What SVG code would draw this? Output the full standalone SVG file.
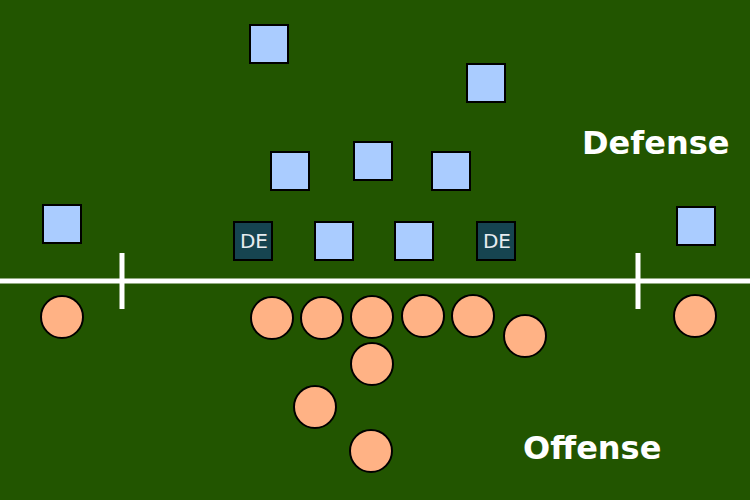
<svg xmlns="http://www.w3.org/2000/svg" width="750" height="500" viewBox="0 0 750 500">
<style>
.d{fill:#aaccff;stroke:#000;stroke-width:2}
.de{fill:#164450;stroke:#000;stroke-width:2}
.o{fill:#ffb285;stroke:#000;stroke-width:2}
.det{font-family:"DejaVu Sans",sans-serif;font-size:20px;fill:#e6ecf0;text-anchor:middle}
.lbl{font-family:"DejaVu Sans",sans-serif;font-weight:bold;font-size:32px;fill:#fff}
.ln{stroke:#fff;stroke-width:5;fill:none}
</style>
<rect width="750" height="500" fill="#225500"/>
<g id="lines">
<line class="ln" x1="0" y1="281" x2="750" y2="281"/>
<line class="ln" x1="122" y1="253" x2="122" y2="309"/>
<line class="ln" x1="638" y1="253" x2="638" y2="309"/>
</g>
<g id="defense">
<rect class="d" x="250" y="25" width="38" height="38"/>
<rect class="d" x="467" y="64" width="38" height="38"/>
<rect class="d" x="271" y="152" width="38" height="38"/>
<rect class="d" x="354" y="142" width="38" height="38"/>
<rect class="d" x="432" y="152" width="38" height="38"/>
<rect class="d" x="43" y="205" width="38" height="38"/>
<rect class="d" x="315" y="222" width="38" height="38"/>
<rect class="d" x="395" y="222" width="38" height="38"/>
<rect class="d" x="677" y="207" width="38" height="38"/>
<g id="de1"><rect class="de" x="234" y="222" width="38" height="38"/><text class="det" x="254" y="248">DE</text></g>
<g id="de2"><rect class="de" x="477" y="222" width="38" height="38"/><text class="det" x="497" y="248">DE</text></g>
</g>
<g id="offense">
<circle class="o" cx="62" cy="317" r="21"/>
<circle class="o" cx="272" cy="318" r="21"/>
<circle class="o" cx="322" cy="318" r="21"/>
<circle class="o" cx="372" cy="317" r="21"/>
<circle class="o" cx="423" cy="316" r="21"/>
<circle class="o" cx="473" cy="316" r="21"/>
<circle class="o" cx="525" cy="336" r="21"/>
<circle class="o" cx="372" cy="364" r="21"/>
<circle class="o" cx="315" cy="407" r="21"/>
<circle class="o" cx="371" cy="451" r="21"/>
<circle class="o" cx="695" cy="316" r="21"/>
</g>
<text class="lbl" x="582" y="154">Defense</text>
<text class="lbl" x="523" y="459">Offense</text>
</svg>
